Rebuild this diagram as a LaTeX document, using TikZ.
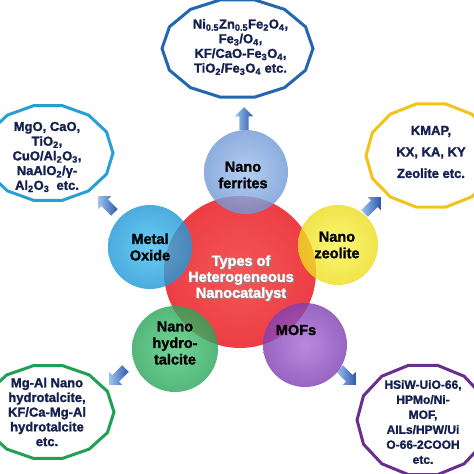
\documentclass[tikz,border=0pt]{standalone}
\usepackage{fontspec}
\setmainfont{Liberation Sans}[BoldFeatures={FakeBold=1.5}]
\usetikzlibrary{shapes.arrows}
\definecolor{navy}{HTML}{14214F}
\definecolor{cTop}{HTML}{2466B0}
\definecolor{cLeft}{HTML}{2A9FD6}
\definecolor{cRight}{HTML}{F2C31B}
\definecolor{cBL}{HTML}{1FA055}
\definecolor{cBR}{HTML}{6B2D90}
\definecolor{redIn}{HTML}{F45658}
\definecolor{redOut}{HTML}{EC3E44}
\definecolor{ferIn}{HTML}{A3C2EE}
\definecolor{ferOut}{HTML}{7099D6}
\definecolor{moIn}{HTML}{45BFF0}
\definecolor{moOut}{HTML}{1E98D6}
\definecolor{zeIn}{HTML}{FAF550}
\definecolor{zeOut}{HTML}{EEDD1E}
\definecolor{hyIn}{HTML}{4FCB7C}
\definecolor{hyOut}{HTML}{2AA55A}
\definecolor{mofIn}{HTML}{A86CD6}
\definecolor{mofOut}{HTML}{7E3FB2}
\definecolor{arrowlight}{HTML}{9CC3EE}
\definecolor{arrowdark}{HTML}{2F57AC}
\newcommand\sbs[1]{\textsubscript{#1}}
\newcommand\polyg[5]{\draw[poly,draw=#1] ({#2+#4},{#3}) \foreach \k in {1,...,13}{ -- ({#2+#4*cos(360/14*\k)},{#3+#5*sin(360/14*\k)}) } -- cycle;}
\tikzset{
  poly/.style={line width=3pt, line join=miter, fill=white},
  ptext/.style={align=center, text=navy, inner sep=0pt, font=\bfseries\fontsize{13}{14.7}\selectfont},
  ctext/.style={align=center, text=black, inner sep=0pt, font=\bfseries\fontsize{14.5}{16.5}\selectfont},
  bubble/.style={circle, minimum size=#1, inner sep=0pt, draw=none},
  blockarrow/.style={single arrow, single arrow head extend=4.5pt, inner xsep=0pt, inner ysep=4.5pt,
    minimum height=23pt, left color=arrowlight, right color=arrowdark, draw=none},
}
\begin{document}
\begin{tikzpicture}[x=1pt,y=-1pt]
\fill[white] (0,0) rectangle (474,474);
\useasboundingbox (0,0) rectangle (474,474);
\begin{scope}
\clip (0,0) rectangle (474,474);
% polygons
\polyg{cTop}{237.5}{48.5}{75.5}{50}
\polyg{cLeft}{48}{153}{65}{48.5}
\polyg{cRight}{431}{155.5}{65}{53}
\polyg{cBL}{48}{412}{66}{47.5}
\polyg{cBR}{423}{420}{66}{56}
\end{scope}
% polygon texts
\node[ptext] (tTop) at (240.5,47) {Ni\sbs{0.5}Zn\sbs{0.5}Fe\sbs{2}O\sbs{4},\\Fe\sbs{3}/O\sbs{4},\\KF/CaO-Fe\sbs{3}O\sbs{4},\\TiO\sbs{2}/Fe\sbs{3}O\sbs{4} etc.};
\node[ptext] (tLeft) at (47,157) {MgO, CaO,\\TiO\sbs{2},\\CuO/Al\sbs{2}O\sbs{3},\\NaAlO\sbs{2}/γ-\\Al\sbs{2}O\sbs{3}\ \ etc.};
\node[ptext, font=\bfseries\fontsize{13}{21.5}\selectfont] (tRight) at (431,152) {KMAP,\\KX, KA, KY\\Zeolite etc.};
\node[ptext] (tBL) at (47,412) {Mg-Al Nano\\hydrotalcite,\\KF/Ca-Mg-Al\\hydrotalcite\\etc.};
\node[ptext, font=\bfseries\fontsize{12}{15}\selectfont] (tBR) at (423,422) {HSiW-UiO-66,\\HPMo/Ni-\\MOF,\\AILs/HPW/Ui\\O-66-2COOH\\etc.};
% arrows
\node[blockarrow, rotate=90] (aTop) at (244,121) {};
\node[blockarrow, rotate=135] (aLeft) at (108,206) {};
\node[blockarrow, rotate=45] (aRight) at (371,207) {};
\node[blockarrow, rotate=225] (aBL) at (119,375) {};
\node[blockarrow, rotate=-45] (aBR) at (346,375) {};
% circles
\node[bubble=152pt, inner color=redIn, outer color=redOut] (center) at (240,272) {};
\begin{scope}[fill opacity=0.8]
\node[bubble=84pt, inner color=ferIn, outer color=ferOut] (cFer) at (246,172) {};
\node[bubble=84pt, inner color=moIn, outer color=moOut] (cMO) at (150,247) {};
\node[bubble=80pt, inner color=zeIn, outer color=zeOut] (cZe) at (338,245) {};
\node[bubble=86pt, inner color=hyIn, outer color=hyOut] (cHy) at (175,349) {};
\node[bubble=84pt, inner color=mofIn, outer color=mofOut] (cMOF) at (305,345) {};
\end{scope}
% circle texts
\node[ctext] (lFer) at (243,175) {Nano\\ferrites};
\node[ctext] (lMO) at (150,247) {Metal\\Oxide};
\node[ctext] (lZe) at (337,245) {Nano\\zeolite};
\node[ctext] (lHy) at (175,343) {Nano\\hydro-\\talcite};
\node[ctext] (lMOF) at (296,330) {MOFs};
% centre text
\node[align=center, inner sep=0pt, text=black!45, font=\bfseries\fontsize{14.5}{16}\selectfont] (cShadow) at (242,279) {Types of\\Heterogeneous\\Nanocatalyst};
\node[align=center, inner sep=0pt, text=white, font=\bfseries\fontsize{14.5}{16}\selectfont] (cText) at (241,278) {Types of\\Heterogeneous\\Nanocatalyst};
\end{tikzpicture}
\end{document}
